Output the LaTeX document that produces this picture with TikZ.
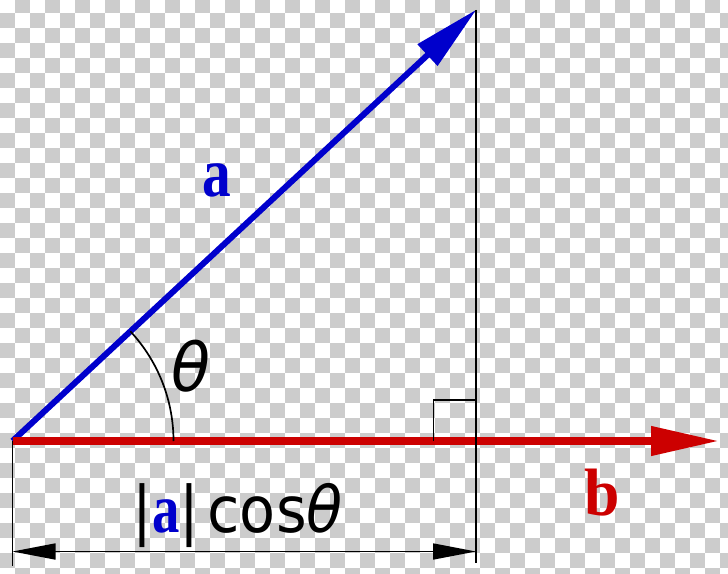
\documentclass[tikz,border=0pt]{standalone}
\usepackage{fontspec}
\usepackage{graphicx}
\setmainfont{DejaVu Sans}
\newfontfamily\bserif{Liberation Serif}
\usetikzlibrary{arrows.meta}
\definecolor{vecblue}{RGB}{0,0,204}
\definecolor{vecred}{RGB}{204,0,0}
\definecolor{checker}{RGB}{204,204,204}
\tikzset{
  vecA/.style={draw=vecblue, line width=6bp, -{Triangle[length=67bp,width=28bp]}, vecblue},
  vecB/.style={draw=vecred, line width=7.5bp, -{Triangle[length=68bp,width=28bp]}, vecred},
  thin line/.style={draw=black, line width=1.7bp},
  dimline/.style={draw=black, line width=1.7bp, {Triangle[length=43bp,width=16bp]}-{Triangle[length=43bp,width=16bp]}},
  txt/.style={inner sep=0pt, outer sep=0pt}
}
\begin{document}
\begin{tikzpicture}[x=1bp,y=-1bp]
\useasboundingbox (0,0) rectangle (728,574);
% checkerboard background
\begin{scope}
\clip (0,0) rectangle (728,574);
\foreach \i in {0,...,48}{
  \foreach \j in {0,...,38}{
    \ifodd\numexpr\i+\j\relax
      \fill[checker] (\i*15,\j*15-1.7) rectangle ++(15,15);
    \fi
  }
}
\end{scope}
% points
\coordinate (O) at (12.5,441);
\coordinate (A) at (476.5,9.5);
\coordinate (B) at (719,441);
\coordinate (F) at (476,441);
\coordinate (Ftop) at (476,10);
\coordinate (Fbot) at (476,563);
\coordinate (Obot) at (12.5,566);
\coordinate (D1) at (12.5,551.5);
\coordinate (D2) at (476,551.5);
\coordinate (R1) at (433.5,441);
\coordinate (R2) at (433.5,400);
\coordinate (R3) at (476,400);
% vectors
\draw[vecA] (O) -- (A);
\draw[vecB] (O) -- (B);
% construction lines
\draw[thin line] (Ftop) -- (Fbot);
\draw[thin line] (O) -- (Obot);
\draw[thin line] (R1) -- (R2) -- (R3);
\draw[dimline] (D1) -- (D2);
\draw[thin line] ([shift={(161,0)}]O) arc[start angle=0, end angle=-42.95, radius=161];
% labels
\node[txt, text=vecblue] (la) at (217,180) {\fontsize{70bp}{80bp}\selectfont\scalebox{0.82}[1]{\bserif\bfseries a}};
\node[txt, text=vecred] (lb) at (602.5,493) {\fontsize{67bp}{80bp}\selectfont\scalebox{0.95}[1]{\bserif\bfseries b}};
\node[txt] (lt) at (191,366) {\fontsize{67bp}{80bp}\selectfont\scalebox{0.95}[1]{\itshape θ}};
\node[txt, anchor=base] (lc) at (237.5,532) {\fontsize{64bp}{80bp}\selectfont\scalebox{0.92}[1]{|\textcolor{vecblue}{\fontsize{70bp}{80bp}\selectfont\scalebox{0.85}[1]{\bserif\bfseries a}}|\hspace{9bp}cos\textit{θ}}};
\end{tikzpicture}
\end{document}
